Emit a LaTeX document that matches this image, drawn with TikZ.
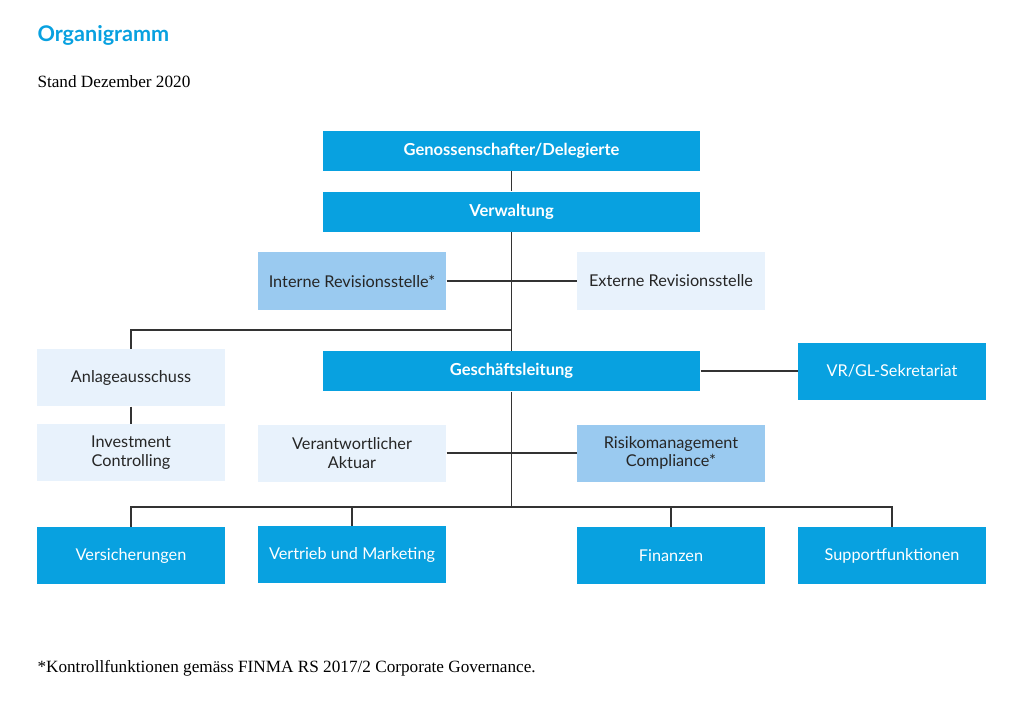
\documentclass[tikz,border=0pt]{standalone}
\usepackage{fontspec}
\setmainfont{Liberation Serif}
\newfontfamily\boxfont{Lato}
\definecolor{orgdark}{RGB}{8,161,224}
\definecolor{orgmid}{RGB}{154,202,240}
\definecolor{orglight}{RGB}{232,242,252}
\definecolor{orgline}{RGB}{51,51,51}

\tikzset{every picture/.style={line width=0.75pt}}
\tikzset{
  orgbox/.style={inner sep=0pt, align=center, font=\boxfont\fontsize{12.2}{14}\selectfont},
  darkbox/.style={orgbox, fill=orgdark, text=white},
  widebox/.style={darkbox, minimum width=377*0.75pt, minimum height=40*0.75pt, font=\boxfont\bfseries\fontsize{12.4}{14}\selectfont},
  smallbox/.style={minimum width=188*0.75pt, minimum height=57*0.75pt},
  midbox/.style={orgbox, smallbox, fill=orgmid, text=black!85},
  lightbox/.style={orgbox, smallbox, fill=orglight, text=black!85},
  link/.style={draw=orgline, line width=1pt}
}

\begin{document}
\begin{tikzpicture}[x=0.75pt,y=0.75pt,yscale=-1,xscale=1]
\useasboundingbox (0,0) rectangle (1024,702);

% Text Node
\node (title) [anchor=west, inner sep=0pt, text=orgdark, font=\boxfont\bfseries\fontsize{16.2}{18}\selectfont] at (37,35) {Organigramm};
% Text Node
\node (stand) [anchor=west, inner sep=0pt, font=\fontsize{12.9}{15}\selectfont] at (37,82) {Stand Dezember 2020};

%Shape: Rectangle
\node (gen) [widebox] at (511.5,151) {Genossenschafter/Delegierte};
%Shape: Rectangle
\node (verw) [widebox] at (511.5,212) {Verwaltung};
%Shape: Rectangle
\node (irev) [midbox] at (352,281) {Interne Revisionsstelle*};
%Shape: Rectangle
\node (erev) [lightbox] at (671,281) {Externe Revisionsstelle};
%Shape: Rectangle
\node (anl) [lightbox] at (131,377.5) {Anlageausschuss};
%Shape: Rectangle
\node (ic) [lightbox] at (131,452.5) {Investment\\Controlling};
%Shape: Rectangle
\node (gl) [widebox] at (511.5,371) {Geschäftsleitung};
%Shape: Rectangle
\node (sek) [darkbox, smallbox] at (892,371) {VR/GL-Sekretariat};
%Shape: Rectangle
\node (akt) [lightbox] at (352,453) {Verantwortlicher\\Aktuar};
%Shape: Rectangle
\node (risk) [midbox] at (671,453) {Risikomanagement\\Compliance*};
%Shape: Rectangle
\node (vers) [darkbox, smallbox] at (131,555.5) {Versicherungen};
%Shape: Rectangle
\node (vertr) [darkbox, smallbox] at (352,554.5) {Vertrieb und Marketing};
%Shape: Rectangle
\node (fin) [darkbox, smallbox] at (671,555.5) {Finanzen};
%Shape: Rectangle
\node (supp) [darkbox, smallbox] at (892,555.5) {Supportfunktionen};

\coordinate (split) at (511.5,330);
\coordinate (bus) at (511.5,507);

%Straight Lines
\draw [link] (gen) -- (verw);
\draw [link] (verw) -- (gl);
\draw [link] (irev) -- (erev);
\draw [link] (split) -| (anl);
\draw [link] (anl) -- (ic);
\draw [link] (gl) -- (sek);
\draw [link] (akt) -- (risk);
\draw [link] (gl) -- (bus);
\draw [link] (bus) -| (vers);
\draw [link] (bus) -| (vertr);
\draw [link] (bus) -| (fin);
\draw [link] (bus) -| (supp);

% Text Node
\node (note) [anchor=west, inner sep=0pt, font=\fontsize{12.9}{15}\selectfont] at (37,668) {*Kontrollfunktionen gemäss FINMA RS 2017/2 Corporate Governance.};

\end{tikzpicture}
\end{document}
